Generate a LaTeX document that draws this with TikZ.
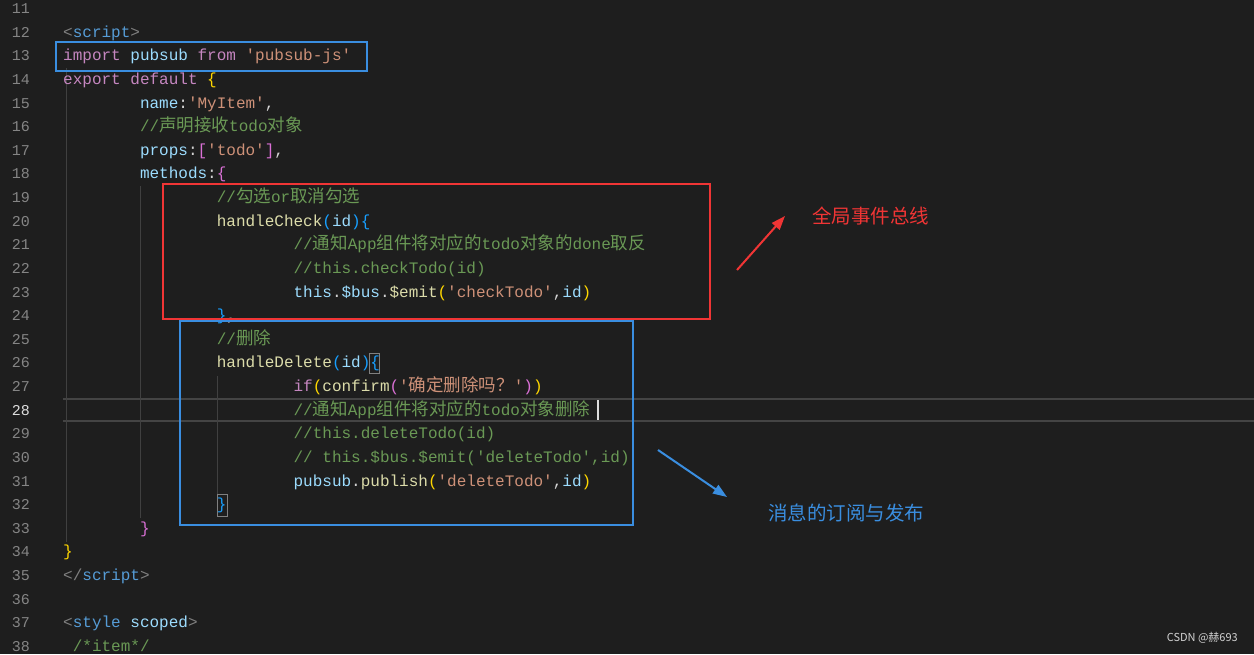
\documentclass[tikz,border=0pt]{standalone}
\usepackage{fontspec}
\setmonofont{Liberation Mono}
\newfontfamily\cjk{Noto Sans CJK SC}
\usetikzlibrary{arrows.meta}
\definecolor{bg}{HTML}{1E1E1E}
\definecolor{ln}{HTML}{858585}
\definecolor{kw}{HTML}{C586C0}
\definecolor{idc}{HTML}{9CDCFE}
\definecolor{str}{HTML}{CE9178}
\definecolor{cm}{HTML}{6A9955}
\definecolor{fn}{HTML}{DCDCAA}
\definecolor{pa}{HTML}{FFD700}
\definecolor{pb}{HTML}{DA70D6}
\definecolor{pc}{HTML}{179FFF}
\definecolor{tagc}{HTML}{808080}
\definecolor{tgn}{HTML}{569CD6}
\definecolor{pl}{HTML}{D4D4D4}
\definecolor{guide}{HTML}{404040}
\definecolor{redbox}{HTML}{F03535}
\definecolor{bluebox}{HTML}{3A8EE0}
\newcommand\K[1]{\textcolor{kw}{#1}}
\newcommand\I[1]{\textcolor{idc}{#1}}
\newcommand\Sg[1]{\textcolor{str}{#1}}
\newcommand\Cm[1]{\textcolor{cm}{#1}}
\newcommand\F[1]{\textcolor{fn}{#1}}
\newcommand\PA[1]{\textcolor{pa}{#1}}
\newcommand\PB[1]{\textcolor{pb}{#1}}
\newcommand\PC[1]{\textcolor{pc}{#1}}
\newcommand\Z[1]{{\cjk\fontsize{17.5}{16}\selectfont #1}}
\begin{document}
\begin{tikzpicture}[x=1pt,y=-1pt,
  code/.style={anchor=base west,inner sep=0pt,text=pl,font=\ttfamily\fontsize{16}{16}\selectfont},
  lnum/.style={anchor=base east,inner sep=0pt,text=ln,font=\ttfamily\fontsize{15}{15}\selectfont},
  frame/.style={line width=2pt},
  note/.style={anchor=west,inner sep=0pt,font=\cjk\fontsize{19.5}{20}\selectfont}]
\fill[bg] (0,0) rectangle (1254,654);
\useasboundingbox (0,0) rectangle (1254,654);
% current line highlight
\draw[color=white!17!bg,line width=1.5pt] (63,399) -- (1254,399) (63,421) -- (1254,421);
% indent guides
\draw[guide] (66,68) -- (66,542);
\draw[guide] (140,186) -- (140,518);
\draw[guide] (217,376) -- (217,494);
% line numbers
\foreach \n in {11,...,38}{
  \pgfmathsetmacro\yy{13.5+(\n-11)*23.63}
  \ifnum\n=28 \node[lnum,text=white!85!bg] (n\n) at (30,\yy) {\n};
  \else \node[lnum] (n\n) at (30,\yy) {\n};\fi
}
\newcommand\Ln[3]{\node[code] (c#1) at ({63+#2*9.6},{13.5+(#1-11)*23.63}) {#3};}
\Ln{12}{0}{\textcolor{tagc}{<}\textcolor{tgn}{script}\textcolor{tagc}{>}}
\Ln{13}{0}{\K{import} \I{pubsub} \K{from} \Sg{'pubsub-js'}}
\Ln{14}{0}{\K{export default} \PA{\{}}
\Ln{15}{8}{\I{name}:\Sg{'MyItem'},}
\Ln{16}{8}{\Cm{//\Z{声明接收}todo\Z{对象}}}
\Ln{17}{8}{\I{props}:\PB{[}\Sg{'todo'}\PB{]},}
\Ln{18}{8}{\I{methods}:\PB{\{}}
\Ln{19}{16}{\Cm{//\Z{勾选}or\Z{取消勾选}}}
\Ln{20}{16}{\F{handleCheck}\PC{(}\I{id}\PC{)\{}}
\Ln{21}{24}{\Cm{//\Z{通知}App\Z{组件将对应的}todo\Z{对象的}done\Z{取反}}}
\Ln{22}{24}{\Cm{//this.checkTodo(id)}}
\Ln{23}{24}{\I{this}.\I{\$bus}.\F{\$emit}\PA{(}\Sg{'checkTodo'},\I{id}\PA{)}}
\Ln{24}{16}{\PC{\}},}
\Ln{25}{16}{\Cm{//\Z{删除}}}
\Ln{26}{16}{\F{handleDelete}\PC{(}\I{id}\PC{)\{}}
\Ln{27}{24}{\K{if}\PA{(}\F{confirm}\PB{(}\Sg{'\Z{确定删除吗？}'}\PB{)}\PA{)}}
\Ln{28}{24}{\Cm{//\Z{通知}App\Z{组件将对应的}todo\Z{对象删除}}}
\Ln{29}{24}{\Cm{//this.deleteTodo(id)}}
\Ln{30}{24}{\Cm{// this.\$bus.\$emit('deleteTodo',id)}}
\Ln{31}{24}{\I{pubsub}.\F{publish}\PA{(}\Sg{'deleteTodo'},\I{id}\PA{)}}
\Ln{32}{16}{\PC{\}}}
\Ln{33}{8}{\PB{\}}}
\Ln{34}{0}{\PA{\}}}
\Ln{35}{0}{\textcolor{tagc}{</}\textcolor{tgn}{script}\textcolor{tagc}{>}}
\Ln{37}{0}{\textcolor{tagc}{<}\textcolor{tgn}{style} \I{scoped}\textcolor{tagc}{>}}
\Ln{38}{1}{\Cm{/*item*/}}
% cursor
\draw[white!85!bg,line width=1.2pt] (598,400) -- (598,420);
% bracket match boxes
\draw[tagc] (369,353) rectangle (379,373);
\draw[tagc] (217,494) rectangle (227,516);
% frames
\node[draw=bluebox,frame,inner sep=0pt,minimum width=311,minimum height=29,anchor=north west] (b1) at (55,41) {};
\node[draw=redbox,frame,inner sep=0pt,minimum width=547,minimum height=135,anchor=north west] (b2) at (162,183) {};
\node[draw=bluebox,frame,inner sep=0pt,minimum width=453,minimum height=204,anchor=north west] (b3) at (179,320) {};
% annotations
\node[note,text=redbox] (t1) at (812,216) {全局事件总线};
\node[note,text=bluebox] (t2) at (768,513) {消息的订阅与发布};
\coordinate (a1s) at (737,270);
\coordinate (a2s) at (658,450);
\draw[redbox,line width=2pt,-{Triangle[length=14pt,width=10pt]}] (a1s) -- (785,216);
\draw[bluebox,line width=2pt,-{Triangle[length=14pt,width=10pt]}] (a2s) -- (727,497);
\node[anchor=east,inner sep=0pt,text=white!80!bg,font=\cjk\fontsize{11}{11}\selectfont] (wm) at (1238,638) {CSDN @赫693};
\end{tikzpicture}
\end{document}
